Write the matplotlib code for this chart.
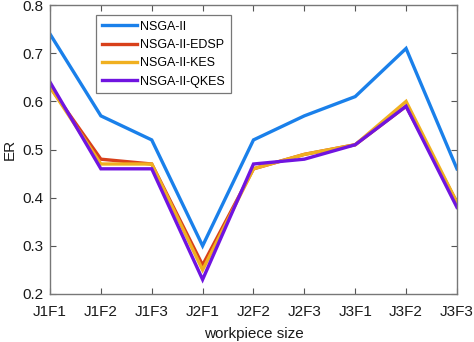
import matplotlib
matplotlib.use("Agg")
import matplotlib.pyplot as plt

plt.rcParams['font.family'] = ['Liberation Sans', 'DejaVu Sans']

categories = ["J1F1", "J1F2", "J1F3", "J2F1", "J2F2", "J2F3", "J3F1", "J3F2", "J3F3"]
nsga2 = [0.74, 0.57, 0.52, 0.30, 0.52, 0.57, 0.61, 0.71, 0.46]
edsp = [0.63, 0.48, 0.47, 0.26, 0.46, 0.49, 0.51, 0.59, 0.39]
kes = [0.63, 0.47, 0.47, 0.25, 0.46, 0.49, 0.51, 0.60, 0.39]
qkes = [0.64, 0.46, 0.46, 0.23, 0.47, 0.48, 0.51, 0.59, 0.38]
series_names = ["NSGA-II", "NSGA-II-EDSP", "NSGA-II-KES", "NSGA-II-QKES"]
yticks = [0.2, 0.3, 0.4, 0.5, 0.6, 0.7, 0.8]

colors = ["#1a80ea", "#d8401a", "#f0b020", "#7014e0"]

fig = plt.figure(figsize=(4.74, 3.42), dpi=100)
ax = fig.add_axes([0.1055, 0.1404, 0.8585, 0.8446])

x = list(range(len(categories)))
for vals, name, c in zip([nsga2, edsp, kes, qkes], series_names, colors):
    ax.plot(x, vals, color=c, lw=2.4, label=name, solid_joinstyle="miter")

ax.set_xlim(0, len(categories) - 1)
ax.set_ylim(0.2, 0.8)
ax.set_xticks(x)
ax.set_xticklabels(categories)
ax.set_yticks(yticks)
ax.set_yticklabels([f"{v:.1f}" for v in yticks])
ax.tick_params(direction="in", top=True, right=True, labelsize=11, length=4,
               color="#555555", labelcolor="#1a1a1a", pad=5)
ax.tick_params(axis="x", pad=8)
for s in ax.spines.values():
    s.set_color("#777777")
    s.set_linewidth(1.0)
ax.set_xlabel("workpiece size", fontsize=11, color="#1a1a1a", labelpad=6)
ax.set_ylabel("ER", fontsize=11, color="#1a1a1a", labelpad=4)

leg = ax.legend(loc="upper left", bbox_to_anchor=(0.113, 0.965), fontsize=9,
                frameon=True, fancybox=False, edgecolor="#555555",
                handlelength=2.8, handletextpad=0.3, borderpad=0.45,
                labelspacing=0.5, borderaxespad=0)
leg.get_frame().set_linewidth(0.9)

fig.savefig("out.png", dpi=100)
